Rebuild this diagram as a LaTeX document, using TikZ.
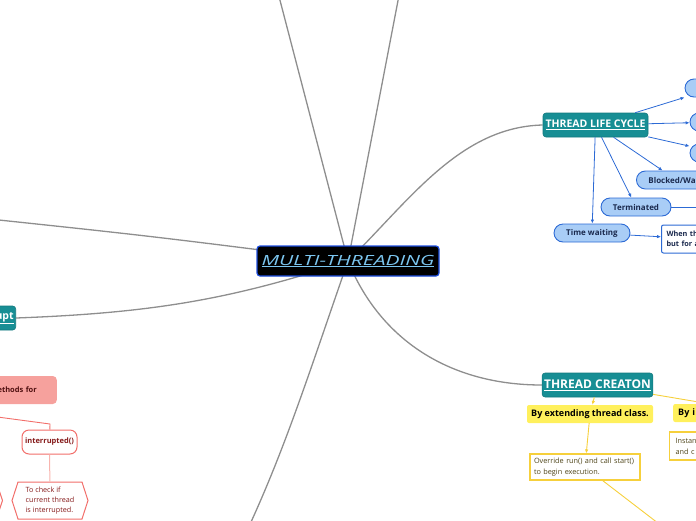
\documentclass[tikz,border=0pt]{standalone}
\usepackage{fontspec}
\setmainfont{Open Sans}
\newfontfamily\titlefont[FakeStretch=1.5]{Open Sans}
\usetikzlibrary{arrows.meta,shapes.symbols,backgrounds}

\definecolor{tealbox}{HTML}{178E94}
\definecolor{greyline}{HTML}{8E8E8E}
\definecolor{titleblue}{HTML}{7CC6F0}
\definecolor{rimblue}{HTML}{1E4FE0}
\definecolor{pillfill}{HTML}{A9CDF6}
\definecolor{pillline}{HTML}{2C6AD5}
\definecolor{pilltext}{HTML}{1B2A4E}
\definecolor{yelfill}{HTML}{FFF05C}
\definecolor{yelline}{HTML}{F6D03C}
\definecolor{yeltext}{HTML}{4E4418}
\definecolor{redline}{HTML}{F26E6A}
\definecolor{redpale}{HTML}{F8B4AE}
\definecolor{pinkfill}{HTML}{F6A19D}
\definecolor{redtext}{HTML}{861B1B}

\begin{document}
\begin{tikzpicture}[x=1pt, y=-1pt,
    every node/.style={inner sep=2pt},
    central/.style={fill=black, draw=rimblue, line width=1.2pt, rounded corners=3pt, minimum width=182pt, minimum height=30pt, text=titleblue, font=\titlefont\itshape\fontsize{14}{16}\selectfont},
    topic/.style={fill=tealbox, draw=tealbox!85!black, line width=0.6pt, rounded corners=3pt, minimum height=24pt, text=white, font=\bfseries\fontsize{10.5}{12}\selectfont},
    state/.style={fill=pillfill, draw=pillline, line width=0.9pt, rounded corners=9pt, minimum height=18pt, text=pilltext, font=\bfseries\fontsize{8}{9}\selectfont},
    note/.style={fill=white, draw=pillline, line width=1pt, rounded corners=2pt, minimum height=28pt, text=pilltext, align=left, font=\bfseries\fontsize{7.3}{10}\selectfont},
    way/.style={fill=yelfill, rounded corners=2pt, minimum height=18pt, font=\bfseries\fontsize{9}{10}\selectfont},
    hint/.style={fill=white, draw=yelline, line width=1.2pt, minimum height=26pt, align=left, text=yeltext, font=\fontsize{7.3}{11}\selectfont},
    method/.style={fill=pinkfill, rounded corners=4pt, minimum height=28pt, text=redtext!60!black, font=\bfseries\fontsize{7.5}{9}\selectfont},
    call/.style={fill=white, draw=redline, line width=1pt, rounded corners=7pt, minimum width=55pt, minimum height=24pt, text=redtext, font=\bfseries\fontsize{7.5}{9}\selectfont},
    hexa/.style={shape=signal, signal to=west and east, signal pointer angle=144, fill=white, draw=redline, line width=1pt, minimum width=76pt, minimum height=37pt, inner sep=1pt, align=left, text=redtext, font=\fontsize{7.2}{10}\selectfont},
    link/.style={greyline, line width=1.3pt},
    flow/.style={draw=pillline, line width=0.8pt, -{Latex[length=4pt,width=3.5pt]}},
    yflow/.style={draw=yelline, line width=0.9pt, -{Latex[length=4pt,width=3.5pt]}},
    rflow/.style={draw=redline, line width=0.9pt},
  ]
  \useasboundingbox (0,0) rectangle (696,520);
  \clip (0,0) rectangle (696,520);

  % main topic
  \node [central] (MT) at (348,261) {\underline{MULTI-THREADING}};

  % branches leaving the frame
  \coordinate (TL) at (276,-15);
  \coordinate (TR) at (401,-15);
  \coordinate (LB) at (-20,218);
  \coordinate (BT) at (245,535);

  % life cycle
  \node [topic, minimum width=105pt] (TLC) at (595.5,125) {\underline{THREAD LIFE CYCLE}};
  \node [state, minimum width=60pt] (S1) at (715,88) {};
  \node [state, minimum width=60pt] (S2) at (720,122) {};
  \node [state, minimum width=60pt] (S3) at (720,153) {};
  \node [state, anchor=west, text width=56pt, inner xsep=12pt, align=left] (BW) at (636,180) {Blocked/Wai};
  \node [state, minimum width=70pt] (TM) at (636,207) {Terminated};
  \node [state, minimum width=76pt] (TW) at (592,233) {Time waiting};
  \node [note, anchor=west, text width=70pt, inner xsep=5pt] (WT) at (661,239) {When th\\but for a};
  \coordinate (TMout) at (730,207);

  \path (TLC) edge[flow] (S1);
  \path (TLC) edge[flow] (S2);
  \path (TLC) edge[flow] (S3);
  \path (TLC) edge[flow] (BW);
  \path (TLC) edge[flow] (TM);
  \path (TLC) edge[flow] (TW);
  \path (TW) edge[flow] (WT);
  \path (TM) edge[draw=pillline, line width=0.8pt] (TMout);

  % creation
  \node [topic, minimum width=109pt, font=\bfseries\fontsize{12}{14}\selectfont] (TC) at (597.5,385) {\underline{THREAD CREATON}};
  \node [way, minimum width=126pt] (BE) at (590,414) {By extending thread class.};
  \node [way, anchor=west, text width=62pt, inner xsep=5pt, align=left] (BI) at (673,413) {By i};
  \node [hint, text width=102pt, inner xsep=4pt] (OR) at (585,467) {Override run() and call start()\\to begin execution.};
  \node [hint, anchor=west, text width=70pt, inner xsep=6pt, minimum height=28pt] (IN) at (669,446) {Instan\\and c};
  \coordinate (ORout) at (680,540);

  \path (TC) edge[yflow] (BE);
  \path (BE) edge[yflow] (OR);
  \path (TC) edge[yflow] (BI.north);
  \path (OR) edge[draw=yelline, line width=0.9pt] (ORout);

  % interrupt
  \node [topic, anchor=east, inner xsep=2pt] (IR) at (16,318) {\underline{upt}};
  \node [method, anchor=east, text width=80pt, inner xsep=20pt, align=right] (MF) at (57,390) {ethods for};
  \coordinate (MFout) at (-10,416);
  \coordinate (IRk) at (50,424);
  \node [call] (IRD) at (49.5,442) {interrupted()};
  \node [hexa] (CK) at (50,500.5) {To check if\\current thread\\is interrupted.};
  \node [hexa, anchor=east, minimum width=60pt] (CK0) at (3,500.5) {};

  \draw [rflow] (MFout) -- (IRk) -- (IRD);
  \path (IRD) edge[draw=redpale, line width=1pt] (CK);

  % grey links under the main topic
  \begin{scope}[on background layer]
    \clip (0,0) rectangle (696,520);
    \path (MT.center) edge[link] (TL);
    \path (MT.center) edge[link] (TR);
    \draw [link] (MT.center) .. controls (150,236) .. (LB);
    \draw [link] (MT.center) .. controls (230,300) and (150,313) .. (IR.east);
    \draw [link] (MT.center) .. controls (310,370) and (285,450) .. (BT);
    \draw [link] (MT.center) .. controls (410,200) and (460,127) .. (TLC.west);
    \draw [link] (MT.center) .. controls (380,340) and (450,385) .. (TC.west);
  \end{scope}
\end{tikzpicture}
\end{document}
